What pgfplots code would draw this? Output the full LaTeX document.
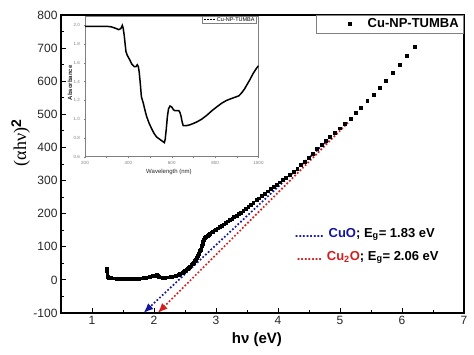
\documentclass[border=0pt]{standalone}
\usepackage{fontspec}
\setmainfont{Liberation Sans}
\newfontfamily\serif{Liberation Serif}
\usepackage{pgfplots}
\pgfplotsset{compat=1.18}
\usetikzlibrary{arrows.meta}
\definecolor{cuoblue}{RGB}{20,20,160}
\definecolor{cuored}{RGB}{210,30,30}

\begin{document}
\begin{tikzpicture}
\begin{axis}[
  at={(61pt,41pt)}, anchor=south west,
  scale only axis, width=403pt, height=298pt,
  xmin=0.5, xmax=7, ymin=-100, ymax=800,
  xtick={1,2,3,4,5,6,7}, ytick={-100,0,100,200,300,400,500,600,700,800},
  minor x tick num=1, minor y tick num=1,
  tick pos=left, tick align=inside,
  major tick length=5pt, minor tick length=3pt,
  axis line style={line width=1.2pt},
  every tick/.style={black, line width=0.9pt},
  tick label style={font=\fontsize{12}{14}\selectfont, text=black!85},
  /pgf/number format/assume math mode=true,
  /pgf/number format/set thousands separator={},
  xlabel={\textbf{hν (eV)}},
  xlabel style={font=\fontsize{15}{17}\selectfont, at={(axis description cs:0.486,-0.09)}, anchor=center},
  ylabel={{\serif\fontsize{18}{20}\selectfont (αhν)}\raisebox{0.5em}{\bfseries\fontsize{14}{14}\selectfont 2}},
  ylabel style={at={(axis description cs:-0.1,0.57)}, anchor=center},
  clip=false,
  legend style={at={(1,1)}, anchor=north east, draw=gray, line width=0.6pt,
    font=\bfseries\fontsize{13}{15}\selectfont, inner xsep=3pt, inner ysep=1.5pt},
  legend image code/.code={\path[draw=none, fill=none] (0pt,0pt) -- (46pt,0pt); \draw[#1] plot[only marks] coordinates {(30pt,0pt)};},
]
\addplot[only marks, mark=square*, mark size=1.4pt, black] coordinates {
(1.235,33)(1.24,26)(1.245,18)(1.25,10)(1.26,7)(1.28,6)(1.30,6)(1.33,5)(1.36,5)(1.39,4)
(1.42,4)(1.45,4)(1.48,4)(1.51,4)(1.54,4)(1.57,4)(1.60,4)(1.63,4)(1.66,4)(1.69,4)
(1.72,4)(1.75,4)(1.78,5)(1.81,5)(1.84,6)(1.87,7)(1.90,8)(1.93,9)(1.96,11)(1.98,12)
(2.00,13)(2.02,14)(2.04,15)(2.06,12)(2.08,10)(2.11,8)(2.14,7)(2.17,7)(2.20,8)(2.23,8)
(2.26,9)(2.29,10)(2.32,11)(2.35,13)(2.38,14)(2.40,16)(2.42,18)(2.44,20)(2.46,22)(2.48,25)
(2.50,27)(2.52,30)(2.54,33)(2.56,37)(2.58,41)(2.60,45)(2.62,49)(2.64,53)(2.66,57)(2.67,61)
(2.69,67)(2.71,74)(2.72,80)(2.74,87)(2.75,92)(2.76,98)(2.77,104)(2.78,110)(2.79,116)(2.80,121)
(2.82,127)(2.84,131)(2.86,134)(2.88,137)(2.90,140)(2.93,144)(2.95,146)(2.98,150)
(3.00,152)(3.03,156)(3.06,160)(3.09,164)(3.12,168)(3.16,173)(3.19,177)(3.22,181)(3.26,186)
(3.29,190)(3.33,195)(3.37,199)(3.40,203)(3.44,209)(3.48,215)(3.52,221)(3.56,227)(3.60,232)
(3.65,242)(3.69,247)(3.74,254)(3.78,260)(3.83,268)(3.88,275)(3.93,281)(3.98,288)(4.03,295)
(4.08,302)(4.13,309)(4.19,318)(4.25,327)(4.31,337)(4.37,347)(4.43,357)(4.49,368)(4.56,382)
(4.63,396)(4.70,408)(4.77,420)(4.84,432)(4.92,444)(5.00,458)(5.08,472)(5.17,488)(5.25,504)
(5.34,521)(5.44,541)(5.54,560)(5.64,581)(5.74,602)(5.85,626)(5.96,651)(6.08,676)(6.20,704)
};
\addlegendentry{Cu-NP-TUMBA}
\addplot[cuoblue, line width=1.7pt, dash pattern=on 1.7pt off 2pt, -{Latex[length=10pt,width=8pt]}, forget plot]
  coordinates {(4.85,430) (1.83,-100)};
\addplot[cuored, line width=1.7pt, dash pattern=on 1.7pt off 2pt, -{Latex[length=10pt,width=8pt]}, forget plot]
  coordinates {(5.13,475) (2.06,-100)};
\node[anchor=base west, inner sep=0pt, font=\bfseries\fontsize{13}{15}\selectfont] at (axis cs:4.27,129)
  {\textcolor{cuoblue}{........ CuO}; E\textsubscript{g}= 1.83 eV};
\node[anchor=base west, inner sep=0pt, font=\bfseries\fontsize{13}{15}\selectfont] at (axis cs:4.30,60)
  {\textcolor{cuored}{....... Cu\textsubscript{2}O}; E\textsubscript{g}= 2.06 eV};
\end{axis}

\begin{axis}[
  at={(85pt,197.3pt)}, anchor=south west,
  scale only axis, width=173.5pt, height=140.7pt,
  xmin=200, xmax=1000, ymin=0.6, ymax=2.1,
  xtick={200,400,600,800,1000}, ytick={0.6,0.8,1.0,1.2,1.4,1.6,1.8,2.0},
  minor x tick num=1,
  tick pos=left, tick align=outside,
  major tick length=1.5pt, minor tick length=1pt,
  axis line style={gray, line width=0.6pt},
  every tick/.style={gray, line width=0.4pt},
  axis background/.style={fill=white},
  tick label style={font=\fontsize{4.5}{5}\selectfont, text=gray},
  /pgf/number format/assume math mode=true,
  /pgf/number format/set thousands separator={},
  yticklabel style={/pgf/number format/fixed, /pgf/number format/fixed zerofill, /pgf/number format/precision=1},
  xlabel={Wavelength (nm)}, ylabel={\textbf{Absorbance}},
  label style={font=\fontsize{6}{7}\selectfont, text=black!85},
  xlabel style={at={(axis description cs:0.484,-0.107)}, anchor=center},
  ylabel style={at={(axis description cs:-0.086,0.524)}, anchor=center},
  legend style={at={(0.99,1)}, anchor=north east, draw=gray, line width=0.4pt,
    font=\fontsize{5.5}{6}\selectfont, inner xsep=1pt, inner ysep=0pt, nodes={inner sep=1pt}},
  legend image code/.code={\draw[black, line width=0.8pt, dash pattern=on 2pt off 1pt] (0pt,0pt) -- (12pt,0pt);},
]
\addplot[black, line width=1.5pt] coordinates {
(200,1.99)(250,1.99)(300,1.99)(320,1.985)(340,1.97)(355,1.955)(365,1.965)(372,2.0)(376,1.97)
(381,1.89)(385,1.80)(389,1.72)(395,1.68)(400,1.66)(407,1.63)(415,1.59)(427,1.56)(435,1.56)
(441,1.58)(446,1.56)(450,1.50)(455,1.38)(460,1.24)(465,1.20)(469,1.17)(476,1.10)(484,1.03)
(495,0.96)(507,0.90)(518,0.85)(530,0.81)(542,0.79)(554,0.77)(566,0.75)(570,0.79)(575,0.90)
(580,1.03)(585,1.11)(592,1.14)(600,1.13)(608,1.10)(615,1.09)(625,1.09)(633,1.09)(638,1.07)
(643,1.03)(648,0.97)(653,0.93)(665,0.93)(684,0.94)(700,0.955)(715,0.97)(738,1.00)(761,1.04)
(785,1.09)(807,1.13)(830,1.17)(853,1.20)(875,1.22)(899,1.24)(910,1.25)(922,1.28)(935,1.32)
(945,1.36)(960,1.42)(976,1.49)(990,1.54)(1000,1.57)
};
\addlegendentry{Cu-NP-TUMBA}
\end{axis}
\pgfresetboundingbox
\path (0pt,0pt) rectangle (474pt,354pt);
\end{tikzpicture}
\end{document}
